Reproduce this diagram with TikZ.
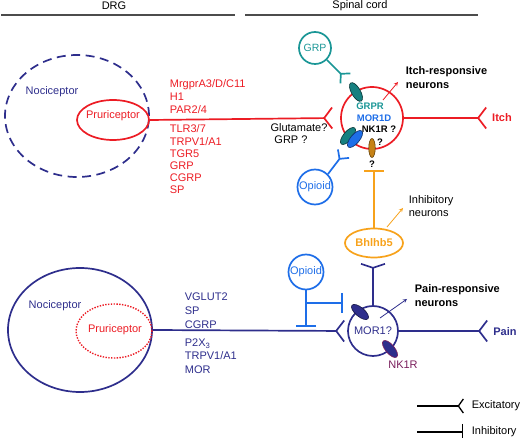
\documentclass[tikz,border=0pt]{standalone}
\usepackage{fontspec}
\setmainfont{Liberation Sans}
\usetikzlibrary{shapes.geometric,arrows.meta}

\definecolor{itchred}{RGB}{236,28,36}
\definecolor{painblue}{RGB}{46,46,140}
\definecolor{grpteal}{RGB}{26,150,150}
\definecolor{opioidblue}{RGB}{30,110,232}
\definecolor{bhorange}{RGB}{247,162,27}
\definecolor{nkpurple}{RGB}{122,30,92}

\tikzset{
  txt/.style={font=\fontsize{11}{13}\selectfont, inner sep=0pt},
  btxt/.style={font=\fontsize{11}{13.5}\selectfont\bfseries, inner sep=0pt},
  stxt/.style={font=\fontsize{9.5}{11}\selectfont\bfseries, inner sep=0pt},
  exc/.style={-{Straight Barb[reversed,length=8pt,width=21pt]}},
  excsmall/.style={-{Straight Barb[reversed,length=6.5pt,width=14pt]}},
  inh/.style={-{Bar[width=20pt]}},
  receptor/.style={ellipse, draw, line width=0.6pt, minimum width=21pt, minimum height=9pt, inner sep=0pt},
  pointer/.style={line width=0.8pt, -stealth},
}

\begin{document}
\begin{tikzpicture}[x=1pt, y=-1pt, line width=1.7pt]
  \useasboundingbox (0,0) rectangle (520,438);
  % header
  \node[txt] (drg) at (114,6) {DRG};
  \node[txt] (cord) at (360,6) {Spinal cord};
  \draw[black!70, line width=1.2pt] (1,15) -- (235,15);
  \draw[black!70, line width=1.2pt] (245,15) -- (478,15);

  % itch pathway
  \node[ellipse, draw=painblue, dash pattern=on 9pt off 5.5pt, minimum width=144pt, minimum height=122pt] (nocA) at (77,116) {};
  \node[txt, text=painblue] (nocAtxt) at (52,92) {Nociceptor};
  \node[ellipse, draw=itchred, minimum width=72pt, minimum height=40pt] (prurA) at (113,120) {};
  \node[txt, text=itchred] (prurAtxt) at (113,116) {Pruriceptor};
  \node[txt, text=itchred, align=left, anchor=north west] (recA) at (169,79) {MrgprA3/D/C11\\H1\\PAR2/4};
  \node[txt, text=itchred, align=left, anchor=north west, font=\fontsize{11}{12.2}\selectfont] (recB) at (169,124) {TLR3/7\\TRPV1/A1\\TGR5\\GRP\\CGRP\\SP};

  \node[circle, draw=itchred, minimum size=62pt, inner sep=0pt] (itch) at (372,118) {};
  \node[stxt, text=grpteal] (grpr) at (370,106) {GRPR};
  \node[stxt, text=opioidblue] (mor1d) at (374,118) {MOR1D};
  \node[stxt] (nk1r) at (379,129) {NK1R ?};
  \coordinate (itchIn) at (333,118);
  \coordinate (itchOut) at (487,118);
  \draw[itchred, exc] (prurA.east) -- (itchIn);
  \draw[itchred, exc] (itch.east) -- (itchOut);
  \node[btxt, text=itchred] (itchtxt) at (502,118) {Itch};
  \node[txt] (glu) at (299,128) {Glutamate?};
  \node[txt] (grpq) at (291,140) {GRP ?};

  \coordinate (itchArrA) at (383,100);
  \coordinate (itchArrB) at (398,82);
  \draw[itchred, pointer] (itchArrA) -- (itchArrB);
  \node[btxt, align=left, anchor=north west] (itchtgt) at (405,66) {Itch-responsive\\neurons};

  \node[circle, draw=grpteal, minimum size=32pt, inner sep=0pt, text=grpteal, font=\fontsize{10.5}{12}\selectfont] (grp) at (315,48) {GRP};
  \coordinate (grpEnd) at (346,79);
  \draw[grpteal, excsmall] (grp.-45) -- (grpEnd);

  \node[circle, draw=opioidblue, minimum size=35pt, inner sep=0pt, text=opioidblue, txt] (opA) at (315,187) {Opioid};
  \coordinate (opAEnd) at (344,153);
  \draw[opioidblue, excsmall] (opA.45) -- (opAEnd);

  \node[receptor, fill=grpteal!85!black, draw=grpteal!35!black, rotate=-60] (grprA) at (356,92) {};
  \node[receptor, fill=grpteal!85!black, draw=grpteal!35!black, rotate=50] (grprB) at (348,136) {};
  \node[receptor, fill=opioidblue, draw=opioidblue!45!black, rotate=50] (morA) at (355,139) {};
  \node[receptor, fill=bhorange!80!black, draw=bhorange!40!black, rotate=90, minimum width=19pt, minimum height=6.5pt] (unk) at (372,148) {};
  \node[stxt] (q1) at (380,142) {?};
  \node[stxt] (q2) at (372,164) {?};

  % inhibitory interneurons
  \node[ellipse, draw=bhorange, minimum width=58pt, minimum height=29pt, inner sep=0pt, text=bhorange, btxt] (bh) at (374,243) {Bhlhb5};
  \coordinate (bhEnd) at (374,170);
  \draw[bhorange, inh] (bh.north) -- (bhEnd);
  \coordinate (bhArrA) at (387,227);
  \coordinate (bhArrB) at (403,208);
  \draw[bhorange, pointer] (bhArrA) -- (bhArrB);
  \node[txt, align=left, anchor=north west] (inhtgt) at (408,195) {Inhibitory\\neurons};

  % pain pathway
  \node[ellipse, draw=painblue, minimum width=144pt, minimum height=124pt] (nocB) at (80,330) {};
  \node[txt, text=painblue] (nocBtxt) at (55,306) {Nociceptor};
  \node[ellipse, draw=itchred, line width=1.4pt, dash pattern=on 1.4pt off 1.4pt, minimum width=76pt, minimum height=54pt] (prurB) at (114,331) {};
  \node[txt, text=itchred] (prurBtxt) at (115,330) {Pruriceptor};
  \node[txt, text=painblue, align=left, anchor=north west, font=\fontsize{11}{14}\selectfont] (recC) at (184,292) {VGLUT2\\SP\\CGRP};
  \node[txt, text=painblue, align=left, anchor=north west, font=\fontsize{11}{13.3}\selectfont] (recD) at (184,338) {P2X\textsubscript{3}\\TRPV1/A1\\MOR};

  \node[circle, draw=painblue, minimum size=50pt, inner sep=0pt, text=painblue, txt] (pain) at (373,331) {MOR1?};
  \coordinate (painIn) at (345,331);
  \coordinate (painOut) at (488,331);
  \coordinate (painUp) at (373,263);
  \draw[painblue, exc] (nocB.east) -- (painIn);
  \draw[painblue, exc] (pain.east) -- (painOut);
  \draw[painblue, -{Straight Barb[reversed,length=4pt,width=24pt]}] (pain.north) -- (painUp);
  \node[btxt, text=painblue] (paintxt) at (505,332) {Pain};
  \node[receptor, fill=painblue, draw=painblue!50!black, rotate=-40] (morB) at (360,312) {};
  \node[receptor, fill=painblue, draw=nkpurple, rotate=-50] (nkB) at (390,349) {};
  \node[txt, text=nkpurple] (nktxt) at (403,365) {NK1R};
  \coordinate (painArrA) at (380,318);
  \coordinate (painArrB) at (407,299);
  \draw[painblue, pointer] (painArrA) -- (painArrB);
  \node[btxt, align=left, anchor=north west] (paintgt) at (414,284) {Pain-responsive\\neurons};

  \node[circle, draw=opioidblue, minimum size=35pt, inner sep=0pt, text=opioidblue, txt] (opB) at (306,272) {Opioid};
  \coordinate (opBEnd) at (306,327);
  \coordinate (opBFork) at (306,303);
  \coordinate (opBSide) at (343,303);
  \draw[opioidblue, inh] (opB.south) -- (opBEnd);
  \draw[opioidblue, inh] (opBFork) -- (opBSide);

  % legend
  \coordinate (exA) at (417,406);
  \coordinate (exB) at (464,406);
  \coordinate (inA) at (417,432);
  \coordinate (inB) at (463,432);
  \draw[line width=1.3pt, -{Straight Barb[reversed,length=5pt,width=14pt]}] (exA) -- (exB);
  \draw[line width=1.3pt, -{Bar[width=16pt]}] (inA) -- (inB);
  \node[txt, anchor=west] (extxt) at (471,406) {Excitatory};
  \node[txt, anchor=west] (intxt) at (471,432) {Inhibitory};
\end{tikzpicture}
\end{document}
